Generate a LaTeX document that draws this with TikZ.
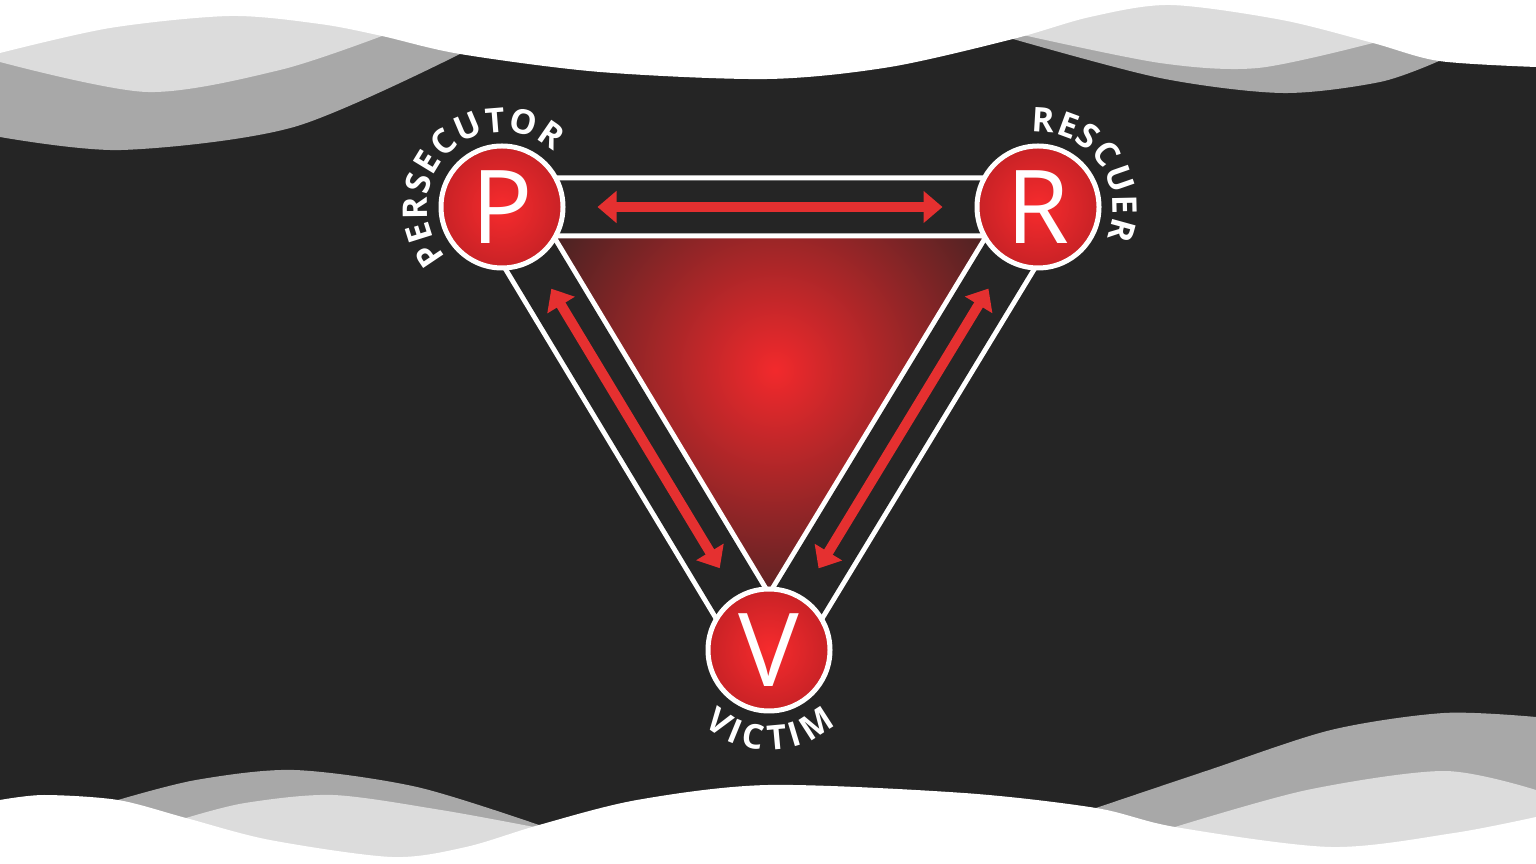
\documentclass[tikz,border=0pt]{standalone}
\usepackage{fontspec}
\setmainfont{Open Sans}
\usetikzlibrary{arrows.meta,decorations.text}
\definecolor{bgdark}{HTML}{252525}
\definecolor{wavelight}{HTML}{DCDCDC}
\definecolor{wavemid}{HTML}{A8A8A8}
\definecolor{arrowred}{HTML}{E53030}
\definecolor{discred}{HTML}{F72B2D}
\definecolor{discedge}{HTML}{C82226}
\definecolor{trired}{HTML}{F2292C}
\definecolor{tridark}{HTML}{2B2121}
\newcommand{\bigletter}{\fontsize{102}{102}\selectfont}
\newcommand{\ringfont}{\bfseries\fontsize{34}{34}\selectfont}

\begin{document}
\begin{tikzpicture}[x=1pt,y=1pt,
  vertex/.style={circle,draw=white,line width=5pt,minimum size=122pt,inner sep=0pt,
    inner color=discred,outer color=discedge,text=white,font=\bigletter},
  twoway/.style={draw=arrowred,line width=10pt,
    {Triangle[width=31pt,length=19pt]}-{Triangle[width=31pt,length=19pt]},
    shorten <=32pt,shorten >=32pt},
  ringtext/.style={decorate,decoration={text effects along path,text={#1},
    text effects/.cd,text along path,fit text to path,
    every character/.style={text=white,font=\ringfont,inner sep=0pt}}}]
\useasboundingbox (0,0) rectangle (1536,864);
\fill[bgdark] (0,0) rectangle (1536,864);
% top waves
\fill[wavemid] (0,864) -- plot[smooth] coordinates {(0,727) (122,714) (294,737) (460,810)} -- (460,864) -- cycle;
\fill[wavelight] (0,864) -- plot[smooth] coordinates {(0,802) (147,772) (280,794) (382,828)} -- (382,864) -- cycle;
\fill[wavemid] (1013,864) -- plot[smooth] coordinates {(1013,825) (1160,786) (1282,771) (1380,782) (1439,803)} -- (1439,864) -- cycle;
\fill[wavelight] (1023,864) -- plot[smooth] coordinates {(1023,829) (1160,801) (1258,796) (1373,821)} -- (1373,864) -- cycle;
\fill[white] (0,864) -- plot[smooth] coordinates {(0,811) (110,836) (230,848) (320,840) (382,828) (460,810) (600,792) (768,785) (890,797) (1013,825) (1090,847) (1170,859) (1282,844) (1373,821) (1439,803) (1536,797)} -- (1536,864) -- cycle;
% bottom waves
\fill[wavemid] (118,0) -- plot[smooth] coordinates {(118,64) (196,84) (294,94) (417,77) (539,39)} -- (539,0) -- cycle;
\fill[wavelight] (186,0) -- plot[smooth] coordinates {(186,46) (245,61) (333,69) (441,54) (534,37)} -- (534,0) -- cycle;
\fill[wavemid] (1096,0) -- plot[smooth] coordinates {(1096,56) (1209,94) (1331,134) (1444,151) (1536,147)} -- (1536,0) -- cycle;
\fill[wavelight] (1175,0) -- plot[smooth] coordinates {(1175,37) (1307,74) (1444,93) (1536,74)} -- (1536,0) -- cycle;
\fill[white] (0,0) -- plot[smooth] coordinates {(0,64) (44,69) (118,64) (186,46) (270,24) (392,7) (466,17) (539,39) (637,64) (768,79) (964,71) (1096,56) (1175,37) (1331,17) (1454,31) (1536,47)} -- (1536,0) -- cycle;
% triangle
\coordinate (P) at (502,657);
\coordinate (R) at (1038,657);
\coordinate (V) at (769,214);
\fill[tridark] (P) -- (R) -- (V) -- cycle;
\begin{scope}
\clip (P) -- (R) -- (V) -- cycle;
\shade[inner color=trired,outer color=tridark] (775,494) circle (300);
\end{scope}
\draw[white,line width=63pt,line join=round] (P) -- (R) -- (V) -- cycle;
\draw[bgdark,line width=53pt,line join=round] (P) -- (R) -- (V) -- cycle;
% roles
\node[vertex] (p) at (P) {P};
\node[vertex] (r) at (R) {R};
\node[vertex] (v) at (V) {V};
\draw[twoway] (p) -- (r);
\draw[twoway] (p) -- (v);
\draw[twoway] (r) -- (v);
\path[ringtext=PERSECUTOR] ([shift={(222:75)}]P) arc[start angle=222,end angle=47,radius=75];
\path[ringtext=RESCUER] ([shift={(95:75)}]R) arc[start angle=95,end angle=-24,radius=75];
\path[ringtext=VICTIM] ([shift={(229:100)}]V) arc[start angle=229,end angle=312,radius=100];
\end{tikzpicture}
\end{document}
